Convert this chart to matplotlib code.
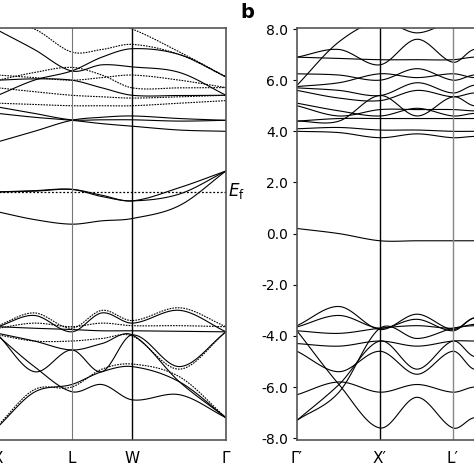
import numpy as np
import matplotlib
matplotlib.use("Agg")
import matplotlib.pyplot as plt

# ---------------- Left panel data ----------------
kL = [0, 36, 73, 103, 133, 180, 226]          # X, mid, L, mid, W, mid, Γ
left_ticks = ["X", "L", "W", "Γ"]
left_tick_k = [0, 73, 133, 226]
Ef = 1.63
left_solid = [
    [1.63, 1.66, 1.73, 1.50, 1.28, 1.80, 2.45],
    [0.85, 0.55, 0.37, 0.50, 0.59, 1.10, 2.45],
    [1.63, 1.68, 1.73, 1.45, 1.28, 1.55, 2.45],
    [7.95, 7.20, 6.36, 6.60, 6.52, 6.30, 5.41],
    [5.41, 6.00, 6.36, 6.90, 7.23, 7.00, 6.13],
    [6.00, 6.05, 6.00, 5.70, 5.41, 5.40, 5.41],
    [4.95, 4.70, 4.45, 4.45, 4.45, 4.40, 4.43],
    [4.70, 4.55, 4.43, 4.30, 4.20, 4.05, 4.00],
    [3.59, 4.00, 4.43, 4.55, 4.60, 4.50, 4.43],
    [-3.64, -3.20, -3.84, -3.10, -3.50, -3.00, -3.84],
    [-3.64, -3.70, -3.75, -3.80, -3.80, -3.82, -3.84],
    [-3.96, -5.40, -4.55, -5.40, -3.96, -5.20, -3.84],
    [-4.00, -5.20, -6.18, -5.90, -6.50, -6.30, -7.20],
    [-7.55, -6.20, -5.90, -5.40, -5.20, -5.80, -7.20],
    [-3.90, -4.20, -4.55, -4.30, -3.96, -5.80, -7.20],
]
left_dotted = [
    [8.30, 8.00, 7.10, 7.20, 7.40, 7.00, 6.13],
    [6.00, 6.30, 6.50, 6.20, 5.70, 5.70, 5.71],
    [5.70, 5.55, 5.41, 5.35, 5.30, 5.35, 5.41],
    [5.10, 5.05, 5.00, 5.00, 5.00, 5.10, 5.20],
    [6.20, 6.10, 6.00, 6.10, 6.20, 6.00, 5.71],
    [9.00, 9.00, 8.60, 8.30, 8.00, 7.10, 6.13],
    [-3.60, -3.10, -3.70, -3.00, -3.40, -2.90, -3.64],
    [-3.70, -3.50, -3.64, -3.50, -3.60, -3.60, -3.64],
    [-3.96, -4.20, -4.20, -4.10, -4.00, -5.30, -3.84],
    [-7.50, -6.10, -6.00, -5.30, -5.10, -5.60, -7.20],
]

# ---------------- Right panel data ----------------
kR = [0, 42, 83, 120, 156, 177, 223]           # Γ', mid, X', mid, L', ...
right_ticks = ["Γ′", "X′", "L′"]
right_tick_k = [0, 83, 156]
right_bands = [
    [0.20, 0.00, -0.28, -0.28, -0.28, -0.28, -0.28],
    [-3.60, -2.85, -3.75, -3.15, -3.75, -3.30, -3.30],
    [-3.65, -3.20, -3.70, -3.35, -3.80, -3.30, -3.30],
    [-3.80, -3.90, -3.70, -3.60, -3.70, -3.55, -3.55],
    [-4.30, -4.40, -4.20, -4.40, -4.20, -4.20, -4.20],
    [-3.80, -5.90, -7.60, -6.40, -7.60, -7.20, -7.20],
    [-4.60, -5.40, -4.60, -5.50, -4.60, -5.30, -5.30],
    [-7.30, -5.90, -4.20, -5.30, -4.20, -4.80, -4.80],
    [-7.30, -6.20, -3.70, -4.10, -3.70, -3.60, -3.60],
    [-6.30, -5.80, -6.20, -5.90, -6.20, -6.00, -6.00],
    [6.90, 7.20, 6.60, 7.60, 6.70, 7.20, 7.20],
    [5.80, 7.50, 8.30, 7.85, 8.30, 8.30, 8.30],
    [6.90, 6.85, 6.80, 6.80, 6.80, 6.90, 6.90],
    [6.25, 6.20, 6.00, 6.45, 6.00, 6.20, 6.20],
    [5.75, 5.90, 6.25, 6.10, 6.25, 6.10, 6.10],
    [5.70, 5.60, 5.40, 5.90, 5.50, 5.80, 5.80],
    [5.60, 5.30, 5.20, 5.60, 5.35, 5.50, 5.50],
    [5.10, 4.80, 4.60, 4.90, 4.60, 4.70, 4.70],
    [5.00, 4.60, 4.85, 4.85, 4.85, 4.80, 4.80],
    [4.40, 4.40, 5.40, 4.60, 5.35, 5.00, 5.00],
    [4.40, 4.50, 4.50, 4.50, 4.50, 4.50, 4.50],
    [4.10, 4.15, 4.05, 4.05, 4.00, 4.00, 4.00],
    [4.00, 3.95, 3.75, 3.90, 3.75, 3.80, 3.80],
]
yticks = [-8.0, -6.0, -4.0, -2.0, 0.0, 2.0, 4.0, 6.0, 8.0]


def smooth(k, e, n=20):
    k = np.asarray(k, float); e = np.asarray(e, float)
    m = np.zeros_like(e)
    m[1:-1] = (e[2:] - e[:-2]) / (k[2:] - k[:-2])
    m[0] = (e[1] - e[0]) / (k[1] - k[0]); m[-1] = (e[-1] - e[-2]) / (k[-1] - k[-2])
    xs, ys = [], []
    for i in range(len(k) - 1):
        h = k[i + 1] - k[i]
        t = np.linspace(0, 1, n, endpoint=False)
        h00 = 2*t**3 - 3*t**2 + 1; h10 = t**3 - 2*t**2 + t
        h01 = -2*t**3 + 3*t**2; h11 = t**3 - t**2
        xs.append(k[i] + t*h)
        ys.append(h00*e[i] + h10*h*m[i] + h01*e[i+1] + h11*h*m[i+1])
    xs.append([k[-1]]); ys.append([e[-1]])
    return np.concatenate(xs), np.concatenate(ys)


W, H = 474, 474
fig = plt.figure(figsize=(W/100, H/100), dpi=100)
ylim = (-8.07, 8.04)
top, bot = 28, 440

ax1 = fig.add_axes([-2/W, 1 - bot/H, 228/W, (bot - top)/H])
for b in left_solid:
    ax1.plot(*smooth(kL, b), color="black", lw=0.8)
for b in left_dotted:
    ax1.plot(*smooth(kL, b), color="black", lw=0.8, ls=(0, (1.5, 1)))
ax1.axhline(Ef, color="black", lw=0.9, ls=(0, (1.5, 1.5)), clip_on=False, xmax=1.0)
ax1.axvline(73, color="#777777", lw=0.8)
ax1.axvline(133, color="black", lw=1.0)
ax1.set_xlim(0, 226); ax1.set_ylim(*ylim)
ax1.set_yticks([])
ax1.set_xticks(left_tick_k); ax1.set_xticklabels(left_ticks, fontsize=11)
ax1.tick_params(axis="x", length=0, pad=8)
for s in ax1.spines.values():
    s.set_color("#555555"); s.set_linewidth(1.2)
fig.text(228/W, 1 - 191/H, "$E_\\mathrm{f}$", fontsize=12, va="center", ha="left")

ax2 = fig.add_axes([297/W, 1 - bot/H, 223/W, (bot - top)/H])
for b in right_bands:
    ax2.plot(*smooth(kR, b), color="black", lw=0.8)
ax2.axvline(83, color="black", lw=1.0)
ax2.axvline(156, color="#888888", lw=1.0)
ax2.set_xlim(0, 223); ax2.set_ylim(*ylim)
ax2.set_yticks(yticks); ax2.set_yticklabels([f"{v:.1f}" for v in yticks], fontsize=10)
ax2.set_xticks(right_tick_k); ax2.set_xticklabels(right_ticks, fontsize=11)
ax2.tick_params(axis="x", length=0, pad=8)
ax2.tick_params(axis="y", length=3, direction="out")
for s in ax2.spines.values():
    s.set_color("#555555"); s.set_linewidth(1.2)
fig.text(240/W, 1 - 12/H, "b", fontsize=14, fontweight="bold", va="center")

fig.savefig("out.png", dpi=100)
